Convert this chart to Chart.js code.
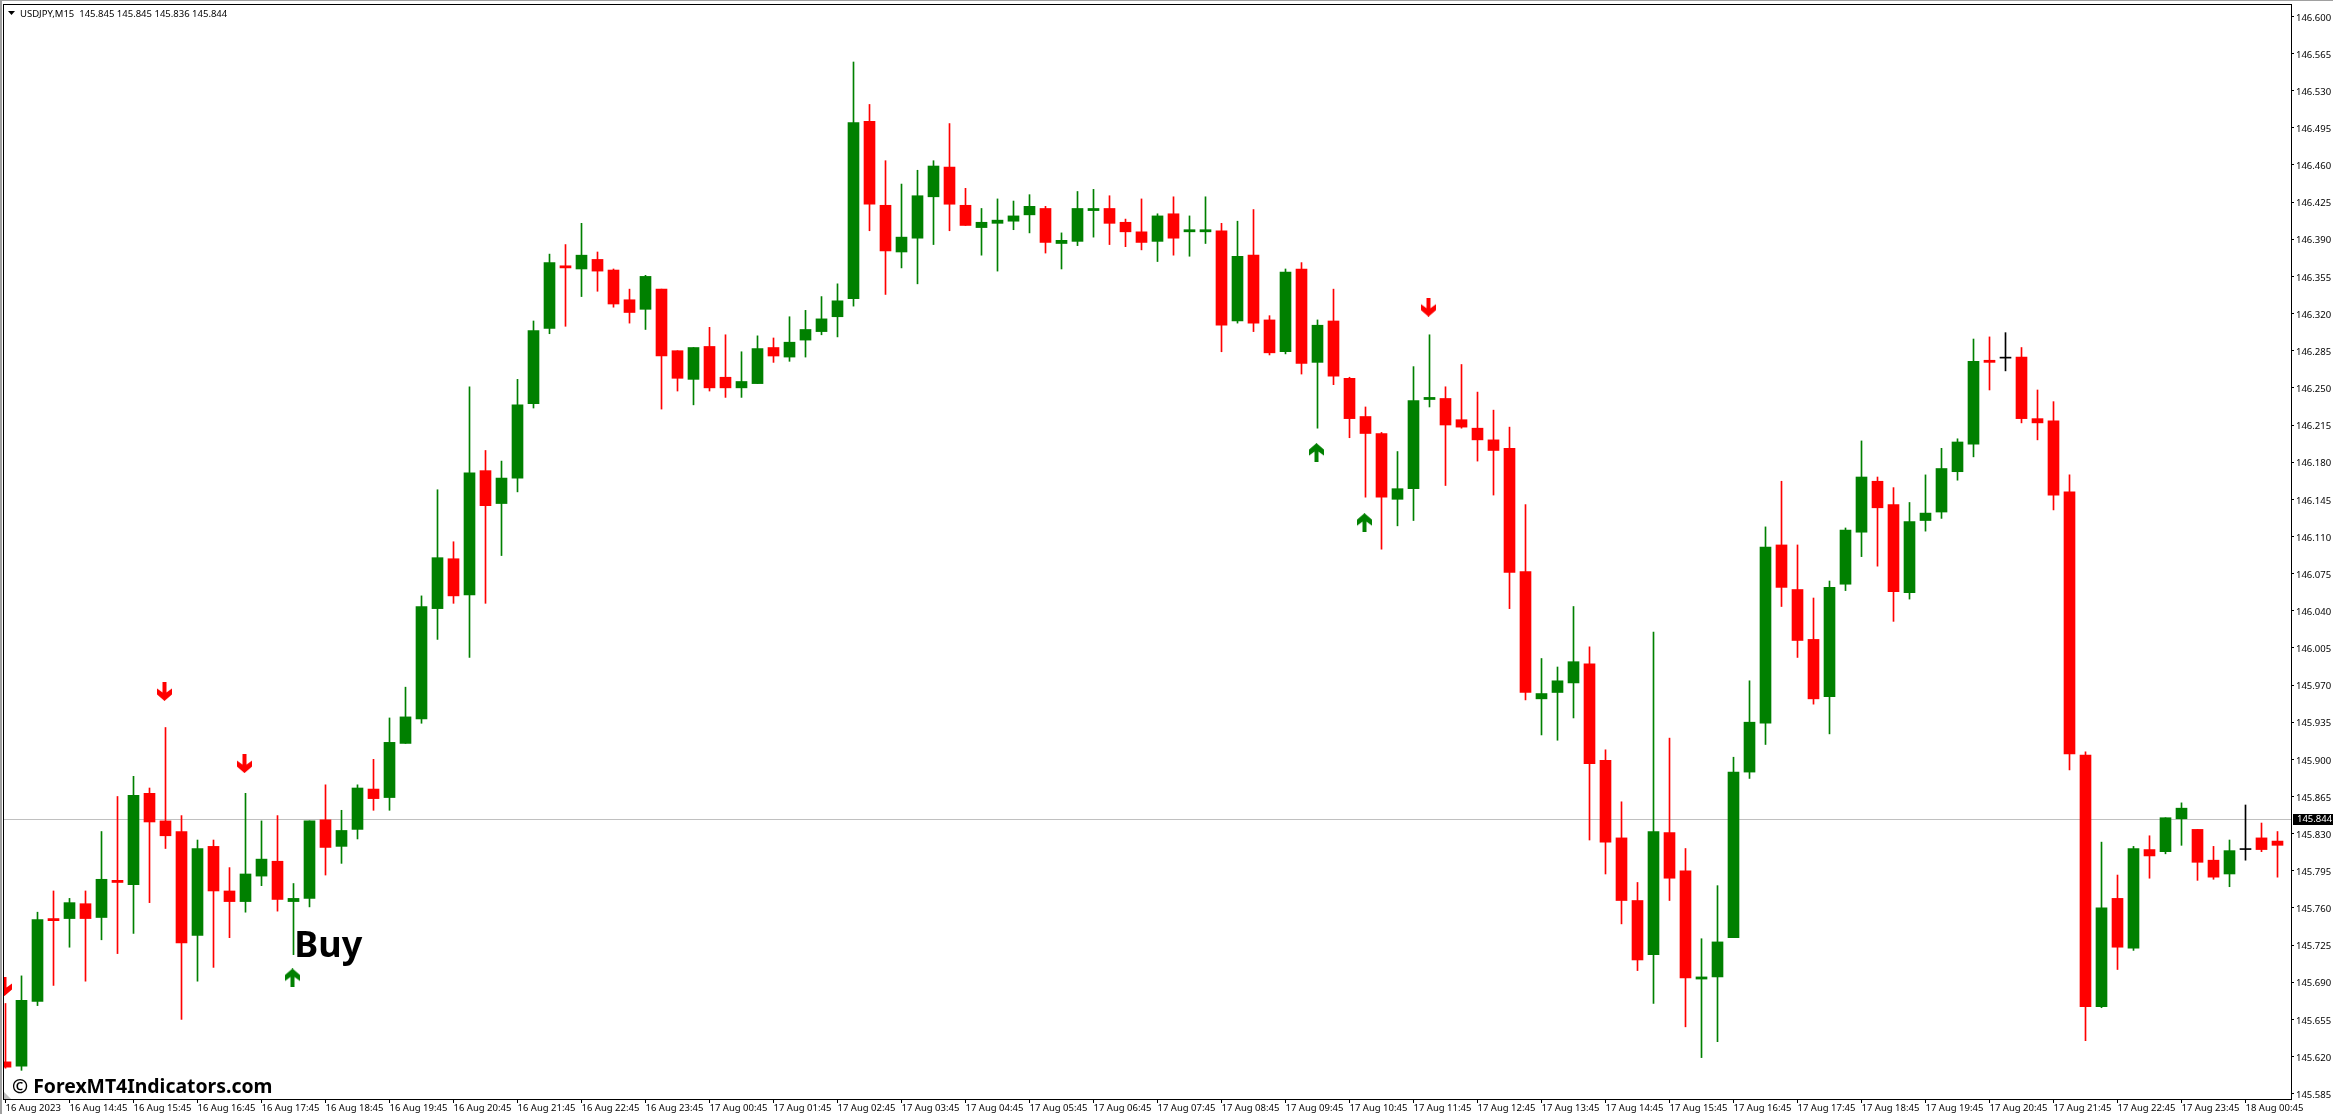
<!DOCTYPE html>
<html>
<head>
<meta charset="utf-8">
<title>USDJPY,M15</title>
<script src="https://cdn.jsdelivr.net/npm/chart.js@4/dist/chart.umd.js"></script>
<style>
html, body { margin: 0; padding: 0; background: #fff; overflow: hidden; }
canvas { display: block; }
</style>
</head>
<body>
<canvas id="chart" width="2333" height="1114"></canvas>
<script>
// candles, oldest first
var opens = [
    145.615,145.611,145.672,145.750,145.750,145.764,145.751,145.786,145.782,145.868,
    145.842,145.832,145.734,145.818,145.776,145.766,145.790,145.804,145.766,145.769,
    145.843,145.818,145.834,145.872,145.864,145.915,145.938,146.042,146.089,146.055,
    146.172,146.141,146.165,146.235,146.306,146.365,146.362,146.371,146.361,146.333,
    146.324,146.343,146.285,146.258,146.289,146.260,146.250,146.254,146.288,146.279,
    146.295,146.303,146.317,146.334,146.501,146.422,146.378,146.391,146.430,146.458,
    146.422,146.401,146.405,146.407,146.413,146.419,146.386,146.388,146.417,146.419,
    146.406,146.397,146.388,146.414,146.397,146.397,146.398,146.313,146.375,146.314,
    146.284,146.362,146.274,146.313,146.259,146.223,146.207,146.145,146.155,146.239,
    146.240,146.220,146.212,146.201,146.193,146.077,145.957,145.963,145.972,145.990,
    145.899,145.826,145.767,145.716,145.831,145.795,145.693,145.695,145.732,145.888,
    145.934,146.102,146.060,146.013,145.959,146.065,146.114,146.162,146.140,146.057,
    146.125,146.133,146.171,146.197,146.276,146.278,146.279,146.221,146.219,146.152,
    145.904,145.667,145.769,145.722,145.815,145.813,145.844,145.834,145.805,145.792,
    145.815,145.826,145.823
];
var highs = [
    145.670,145.696,145.756,145.776,145.769,145.776,145.832,145.865,145.884,145.873,
    145.930,145.847,145.824,145.824,145.798,145.868,145.842,145.847,145.783,145.842,
    145.876,145.852,145.876,145.900,145.939,145.968,146.054,146.154,146.105,146.251,
    146.191,146.181,146.258,146.313,146.376,146.385,146.405,146.378,146.362,146.343,
    146.356,146.343,146.285,146.288,146.307,146.300,146.284,146.299,146.297,146.317,
    146.323,146.336,146.348,146.557,146.517,146.464,146.442,146.455,146.464,146.499,
    146.438,146.419,146.428,146.426,146.432,146.421,146.396,146.435,146.437,146.431,
    146.409,146.428,146.414,146.430,146.412,146.430,146.405,146.407,146.418,146.318,
    146.362,146.368,146.314,146.343,146.260,146.232,146.208,146.190,146.270,146.300,
    146.251,146.272,146.246,146.229,146.213,146.140,145.995,145.987,146.044,146.006,
    145.909,145.860,145.784,146.020,145.920,145.816,145.731,145.781,145.902,145.974,
    146.119,146.162,146.102,146.052,146.068,146.118,146.200,146.166,146.156,146.142,
    146.168,146.193,146.202,146.296,146.298,146.302,146.288,146.248,146.237,146.168,
    145.907,145.822,145.791,145.818,145.828,145.845,145.859,145.834,145.818,145.824,
    145.857,145.840,145.832
];
var lows = [
    145.609,145.607,145.668,145.687,145.723,145.691,145.730,145.717,145.736,145.765,
    145.816,145.655,145.691,145.704,145.732,145.756,145.781,145.757,145.716,145.761,
    145.791,145.802,145.825,145.852,145.852,145.915,145.934,146.013,146.047,145.996,
    146.047,146.092,146.152,146.231,146.301,146.308,146.336,146.341,146.326,146.311,
    146.305,146.230,146.247,146.234,146.247,146.241,146.241,146.254,146.274,146.275,
    146.279,146.300,146.298,146.327,146.398,146.338,146.363,146.348,146.385,146.398,
    146.403,146.375,146.360,146.399,146.396,146.377,146.362,146.384,146.392,146.385,
    146.383,146.380,146.369,146.375,146.374,146.386,146.284,146.311,146.303,146.281,
    146.282,146.263,146.212,146.253,146.203,146.147,146.098,146.120,146.125,146.232,
    146.158,146.212,146.181,146.149,146.042,145.956,145.923,145.918,145.939,145.824,
    145.792,145.745,145.701,145.670,145.767,145.648,145.619,145.634,145.732,145.882,
    145.914,146.044,145.996,145.952,145.924,146.059,146.091,146.082,146.030,146.051,
    146.115,146.127,146.163,146.185,146.248,146.266,146.217,146.201,146.135,145.890,
    145.635,145.666,145.702,145.720,145.788,145.811,145.819,145.786,145.787,145.780,
    145.805,145.813,145.789
];
var closes = [
    145.610,145.673,145.749,145.748,145.765,145.750,145.787,145.784,145.866,145.841,
    145.828,145.727,145.816,145.776,145.766,145.792,145.806,145.768,145.769,145.842,
    145.817,145.833,145.873,145.863,145.916,145.940,146.044,146.090,146.054,146.170,
    146.139,146.165,146.234,146.304,146.368,146.363,146.375,146.360,146.329,146.321,
    146.355,146.280,146.259,146.288,146.250,146.250,146.256,146.287,146.280,146.293,
    146.305,146.315,146.332,146.500,146.423,146.379,146.392,146.431,146.459,146.423,
    146.403,146.406,146.408,146.412,146.421,146.387,146.389,146.419,146.419,146.405,
    146.397,146.387,146.412,146.391,146.399,146.399,146.309,146.374,146.311,146.283,
    146.359,146.273,146.309,146.261,146.221,146.207,146.147,146.155,146.238,146.241,
    146.215,146.213,146.201,146.191,146.076,145.963,145.962,145.974,145.992,145.896,
    145.822,145.767,145.711,145.832,145.788,145.694,145.695,145.728,145.888,145.935,
    146.100,146.062,146.012,145.957,146.062,146.116,146.166,146.137,146.058,146.124,
    146.132,146.174,146.199,146.275,146.274,146.278,146.221,146.217,146.149,145.905,
    145.667,145.760,145.723,145.816,145.809,145.845,145.854,145.803,145.789,145.814,
    145.815,145.815,145.819
];

// one label every 4 candles
var timeLabels = [
    '16 Aug 2023','16 Aug 14:45','16 Aug 15:45','16 Aug 16:45','16 Aug 17:45','16 Aug 18:45',
    '16 Aug 19:45','16 Aug 20:45','16 Aug 21:45','16 Aug 22:45','16 Aug 23:45','17 Aug 00:45',
    '17 Aug 01:45','17 Aug 02:45','17 Aug 03:45','17 Aug 04:45','17 Aug 05:45','17 Aug 06:45',
    '17 Aug 07:45','17 Aug 08:45','17 Aug 09:45','17 Aug 10:45','17 Aug 11:45','17 Aug 12:45',
    '17 Aug 13:45','17 Aug 14:45','17 Aug 15:45','17 Aug 16:45','17 Aug 17:45','17 Aug 18:45',
    '17 Aug 19:45','17 Aug 20:45','17 Aug 21:45','17 Aug 22:45','17 Aug 23:45','18 Aug 00:45'
];
var priceTicks = [
    146.600,146.565,146.530,146.495,146.460,146.425,146.390,146.355,146.320,146.285,
    146.250,146.215,146.180,146.145,146.110,146.075,146.040,146.005,145.970,145.935,
    145.900,145.865,145.830,145.795,145.760,145.725,145.690,145.655,145.620,145.585
];

// signal arrows: candle index and price
var sellIndex = [0, 10, 15, 89];
var sellPrice = [145.686, 145.964, 145.896, 146.326];
var buyIndex = [18, 82, 85];
var buyPrice = [145.694, 146.189, 146.123];

var lastPrice = 145.844;
var headerText = 'USDJPY,M15  145.845 145.845 145.836 145.844';

var UP = '#008000', DOWN = '#ff0000', FLAT = '#000000';
var TICK_FONT = { family: '"Noto Sans"', size: 9.5 };

function candleColor(i) {
    if (closes[i] > opens[i]) return UP;
    if (closes[i] < opens[i]) return DOWN;
    return FLAT;
}

// the arrow glyph, drawn once and used as a point style
function makeArrow(color, down) {
    var c = document.createElement('canvas');
    c.width = 19;
    c.height = 19;
    var g = c.getContext('2d');
    var pts = [[6.5,0],[10.5,0],[10.5,10.5],[16,6.5],[16,12.5],[8.5,19],[1,12.5],[1,6.5],[6.5,10.5]];
    g.fillStyle = color;
    g.beginPath();
    pts.forEach(function(p, n) {
        var px = p[0], py = down ? p[1] : 19 - p[1];
        if (n === 0) g.moveTo(px, py); else g.lineTo(px, py);
    });
    g.closePath();
    g.fill();
    return c;
}

function toPoints(index, price) {
    return index.map(function(x, n) { return { x: x, y: price[n] }; });
}

var wicks = [], bodies = [], colors = [];
for (var i = 0; i < opens.length; i++) {
    wicks.push({ x: i, y: [lows[i], highs[i]] });
    bodies.push({ x: i, y: [Math.min(opens[i], closes[i]), Math.max(opens[i], closes[i])] });
    colors.push(candleColor(i));
}

// frame, header, watermark and the last price tag
var decorations = {
    id: 'decorations',
    beforeDraw: function(chart) {
        // Noto digits sit a bit high on the tick, push the price labels down
        chart.scales.y.getLabelItems().forEach(function(item) {
            item.options.translation[1] += 1.5;
        });
    },
    beforeDatasetsDraw: function(chart) {
        // last price line, under the candles
        var ctx = chart.ctx, a = chart.chartArea;
        var py = Math.round(chart.scales.y.getPixelForValue(lastPrice));
        ctx.save();
        ctx.fillStyle = '#c0c0c0';
        ctx.fillRect(a.left, py, a.right - a.left, 1);
        ctx.restore();
    },
    afterDraw: function(chart) {
        var ctx = chart.ctx, xs = chart.scales.x, ys = chart.scales.y;
        var a = chart.chartArea;
        ctx.save();

        ctx.fillStyle = '#000';
        ctx.fillRect(a.left - 1, a.top - 1, a.right - a.left + 2, 1);
        ctx.fillRect(a.left - 1, a.bottom, a.right - a.left + 2, 1);
        ctx.fillRect(a.left - 1, a.top - 1, 1, a.bottom - a.top + 2);
        ctx.fillRect(a.right, a.top - 1, 1, a.bottom - a.top + 2);

        // window edges
        ctx.fillStyle = '#a0a0a0';
        ctx.fillRect(0, 0, 2333, 1);
        ctx.fillRect(0, 0, 2, 1114);

        // chart shift marker
        ctx.fillStyle = '#c0c0c0';
        ctx.beginPath();
        ctx.moveTo(a.left, a.bottom);
        ctx.lineTo(a.left + 7, a.bottom);
        ctx.lineTo(a.left, a.bottom - 7);
        ctx.closePath();
        ctx.fill();

        // header
        ctx.fillStyle = '#000';
        ctx.beginPath();
        ctx.moveTo(8, 11);
        ctx.lineTo(15, 11);
        ctx.lineTo(11.5, 15);
        ctx.closePath();
        ctx.fill();
        ctx.font = '9.5px "Noto Sans"';
        ctx.textAlign = 'left';
        ctx.textBaseline = 'middle';
        ctx.fillText(headerText, 20, 14);

        // last price tag
        var py = Math.round(ys.getPixelForValue(lastPrice));
        ctx.fillStyle = '#000';
        ctx.fillRect(2293, py - 5, 40, 11);
        ctx.fillStyle = '#fff';
        ctx.fillText(lastPrice.toFixed(3), 2297, py + 0.5);

        // texts on the chart
        ctx.fillStyle = '#000';
        ctx.textBaseline = 'alphabetic';
        ctx.font = 'bold 36px "Noto Sans"';
        ctx.fillText('Buy', xs.getPixelForValue(18.05), ys.getPixelForValue(145.714));
        ctx.font = 'bold 19.4px "Noto Sans"';
        ctx.fillText('\u00a9 ForexMT4Indicators.com', 12, 1093);

        ctx.restore();
    }
};

var chart = new Chart(document.getElementById('chart').getContext('2d'), {
    type: 'bar',
    data: {
        datasets: [
            {
                data: wicks,
                backgroundColor: colors,
                barThickness: 1,
                grouped: false,
                borderWidth: 0,
                order: 2
            },
            {
                data: bodies,
                backgroundColor: colors,
                barThickness: 11,
                minBarLength: 1,
                grouped: false,
                borderWidth: 0,
                order: 1
            },
            {
                type: 'line',
                data: toPoints(sellIndex, sellPrice),
                showLine: false,
                pointStyle: makeArrow(DOWN, true),
                pointRadius: 9,
                order: 0
            },
            {
                type: 'line',
                data: toPoints(buyIndex, buyPrice),
                showLine: false,
                pointStyle: makeArrow(UP, false),
                pointRadius: 9,
                order: 0
            }
        ]
    },
    options: {
        responsive: false,
        animation: false,
        devicePixelRatio: 1,
        // the point radius of the arrows would otherwise push the plot area in
        layout: { autoPadding: false, padding: { left: 4, top: 5, right: 0, bottom: 0 } },
        plugins: {
            legend: { display: false },
            title: { display: false },
            tooltip: { enabled: false }
        },
        scales: {
            x: {
                type: 'linear',
                bounds: 'data',
                offset: false,
                min: -0.09375,
                max: 142.84375,
                border: { display: false },
                grid: {
                    offset: false,
                    drawOnChartArea: false,
                    drawTicks: true,
                    tickLength: 4,
                    tickColor: '#000'
                },
                ticks: {
                    autoSkip: false,
                    maxRotation: 0,
                    minRotation: 0,
                    align: 'start',
                    padding: 0,
                    color: '#000',
                    font: TICK_FONT,
                    callback: function(value) { return timeLabels[value / 4]; }
                },
                afterBuildTicks: function(axis) {
                    axis.ticks = timeLabels.map(function(t, n) { return { value: n * 4 }; });
                },
                afterFit: function(axis) {
                    axis.height = 15;
                    axis.paddingLeft = 0;
                    axis.paddingRight = 0;
                }
            },
            y: {
                type: 'linear',
                position: 'right',
                bounds: 'data',
                min: 145.5800,
                max: 146.6107,
                border: { display: false },
                grid: {
                    drawOnChartArea: false,
                    drawTicks: true,
                    tickLength: 3,
                    tickColor: '#000'
                },
                ticks: {
                    autoSkip: false,
                    padding: 2,
                    color: '#000',
                    font: TICK_FONT,
                    callback: function(value) { return value.toFixed(3); }
                },
                afterBuildTicks: function(axis) {
                    axis.ticks = priceTicks.map(function(v) { return { value: v }; });
                },
                afterFit: function(axis) {
                    axis.width = 42;
                    axis.paddingTop = 0;
                    axis.paddingBottom = 0;
                }
            }
        }
    },
    plugins: [decorations]
});
</script>
</body>
</html>
